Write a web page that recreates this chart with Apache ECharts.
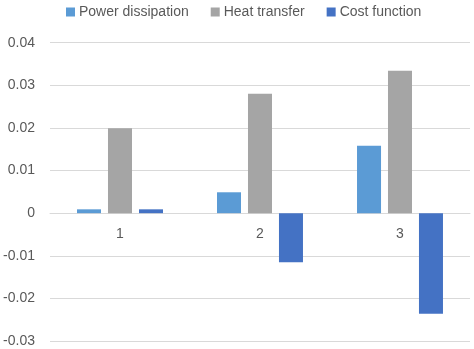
<!DOCTYPE html>
<html><head><meta charset="utf-8">
<script src="https://cdn.jsdelivr.net/npm/echarts@6/dist/echarts.min.js"></script>
<style>html,body{margin:0;padding:0;background:#fff}#c{width:474px;height:349px}</style>
</head><body><div id="c"></div>
<script>
const categories = ['1', '2', '3'];
const powerDissipation = [0.0009, 0.0049, 0.0158];
const heatTransfer = [0.0199, 0.0280, 0.0334];
const costFunction = [0.0009, -0.0115, -0.0236];
const seriesNames = ['Power dissipation', 'Heat transfer', 'Cost function'];
const colors = ['#5B9BD5', '#A5A5A5', '#4472C4'];
const yMin = -0.03, yMax = 0.04, yStep = 0.01;

const W = 474, H = 349;
const gridTop = 42.7, gridBottom = 8;
const plotH = H - gridTop - gridBottom;
const zeroOffset = -plotH * (0 - yMin) / (yMax - yMin);

const chart = echarts.init(document.getElementById('c'));
const font = 'Liberation Sans';
chart.setOption({
  animation: false,
  color: colors,
  legend: {
    top: 0, left: 61,
    itemWidth: 9, itemHeight: 9, itemGap: 22,
    icon: 'rect',
    textStyle: { color: '#595959', fontSize: 14, fontFamily: font, padding: [0, 0, 0, -1] },
    data: seriesNames
  },
  grid: { left: 50, right: 4, top: gridTop, bottom: gridBottom, containLabel: false, outerBoundsMode: 'none' },
  xAxis: {
    type: 'category', data: categories, position: 'bottom', offset: zeroOffset,
    axisLine: { show: true, onZero: false, lineStyle: { color: '#d9d9d9' } },
    axisTick: { show: false },
    axisLabel: { color: '#595959', fontSize: 14, fontFamily: font, margin: 14 }
  },
  yAxis: {
    type: 'value', min: yMin, max: yMax, interval: yStep,
    axisLine: { show: false }, axisTick: { show: false },
    splitLine: { lineStyle: { color: '#d9d9d9' } },
    axisLabel: { color: '#595959', fontSize: 14, fontFamily: font, margin: 15,
      formatter: v => { const r = Math.round(v * 100) / 100; return r === 0 ? '0' : String(r); } }
  },
  series: [
    { name: seriesNames[0], type: 'bar', data: powerDissipation, barGap: '29%', barCategoryGap: '38.6%' },
    { name: seriesNames[1], type: 'bar', data: heatTransfer, barGap: '29%', barCategoryGap: '38.6%' },
    { name: seriesNames[2], type: 'bar', data: costFunction, barGap: '29%', barCategoryGap: '38.6%' }
  ]
});
</script></body></html>
